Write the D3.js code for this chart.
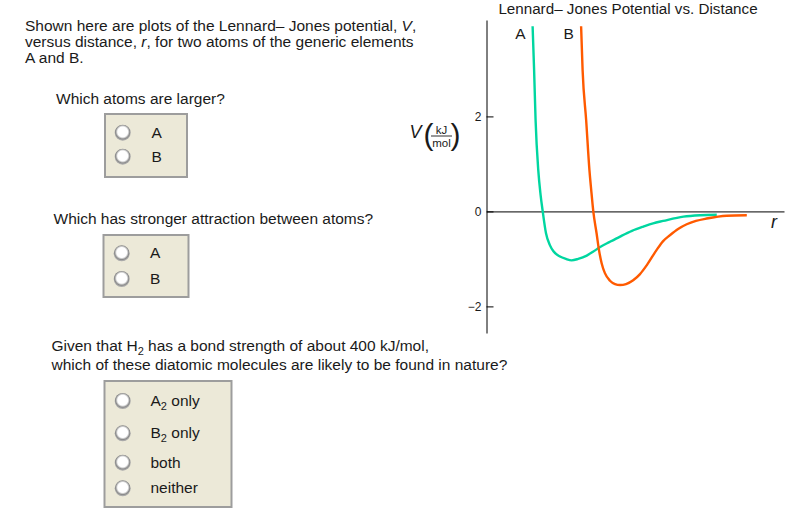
<!DOCTYPE html>
<html><head><meta charset="utf-8">
<script src="https://cdn.jsdelivr.net/npm/d3@7"></script>
<style>
body{margin:0;background:#fff}
svg{display:block}
text{font-family:"Liberation Sans",Arial,Helvetica,sans-serif;fill:#1a1a1a}
</style>
</head><body>
<svg id="c" width="807" height="512"></svg>
<script>
// ---- data ----
const seriesNames = ["A", "B"];
const seriesColors = ["#00d6a0", "#ff5a00"];
const rA = [1.55,1.60,1.65,1.74,1.82,1.89,2.00,2.13,2.25,2.47,2.67,2.86,3.08,3.37,3.58,3.82,4.15,4.49,4.89,5.27,5.60,5.94,6.62,7.18,7.74];
const vA = [3.90,2.98,1.92,0.87,0.34,0.00,-0.46,-0.71,-0.84,-0.95,-1.00,-1.03,-1.00,-0.93,-0.85,-0.75,-0.64,-0.53,-0.41,-0.32,-0.25,-0.20,-0.11,-0.08,-0.07];
const rB = [3.18,3.23,3.35,3.46,3.52,3.59,3.70,3.78,3.87,3.98,4.15,4.32,4.49,4.69,4.93,5.16,5.39,5.72,5.93,6.17,6.44,6.73,7.04,7.40,8.07,8.75];
const vB = [3.90,2.98,1.92,0.87,0.45,0.00,-0.46,-0.81,-1.09,-1.30,-1.46,-1.53,-1.55,-1.53,-1.45,-1.32,-1.13,-0.81,-0.63,-0.50,-0.37,-0.27,-0.20,-0.15,-0.09,-0.08];
const yTicks = [-2, 0, 2];
const rDomain = [0, 10];
const vDomain = [-2.56, 4.03];
const chartTitle = "Lennard\u2013 Jones Potential vs. Distance";

const q1Options = ["A", "B"];
const q2Options = ["A", "B"];
const q3Options = [["A","2"," only"], ["B","2"," only"], ["both","",""], ["neither","",""]];

// ---- drawing ----
const svg = d3.select("#c");
const FS = 15.5;

const x = d3.scaleLinear().domain(rDomain).range([486.5, 784]);
const y = d3.scaleLinear().domain(vDomain).range([333, 20]);

// intro paragraph
function richLine(xp, yp, parts) {
  const t = svg.append("text").attr("x", xp).attr("y", yp).attr("font-size", FS);
  parts.forEach(p => {
    const s = t.append("tspan").text(p[0]);
    if (p[1] === "i") s.attr("font-style", "italic");
  });
  return t;
}
richLine(25, 31, [["Shown here are plots of the Lennard\u2013 Jones potential, "], ["V", "i"], [","]]);
richLine(25, 47, [["versus distance, "], ["r", "i"], [", for two atoms of the generic elements"]]);
richLine(25, 63, [["A and B."]]);

svg.append("text").attr("x", 56).attr("y", 104).attr("font-size", FS).text("Which atoms are larger?");
svg.append("text").attr("x", 53.5).attr("y", 224).attr("font-size", FS).text("Which has stronger attraction between atoms?");
const g1 = svg.append("text").attr("x", 51.5).attr("y", 350.5).attr("font-size", FS);
g1.append("tspan").text("Given that H");
g1.append("tspan").attr("font-size", 11).attr("dy", 4).text("2");
g1.append("tspan").attr("dy", -4).text(" has a bond strength of about 400 kJ/mol,");
svg.append("text").attr("x", 51.5).attr("y", 370).attr("font-size", FS).text("which of these diatomic molecules are likely to be found in nature?");

// answer boxes
function box(x0, y0, x1, y1) {
  svg.append("rect").attr("x", x0).attr("y", y0).attr("width", x1 - x0).attr("height", y1 - y0)
    .attr("fill", "#ece9d8").attr("stroke", "#9d9d9d").attr("stroke-width", 2);
}
const defs = svg.append("defs");
const rg = defs.append("radialGradient").attr("id", "rg").attr("cx", "50%").attr("cy", "45%").attr("r", "50%");
rg.append("stop").attr("offset", "0.62").attr("stop-color", "#ffffff");
rg.append("stop").attr("offset", "0.72").attr("stop-color", "#d8d8d8");
rg.append("stop").attr("offset", "0.88").attr("stop-color", "#8a8a8a");
rg.append("stop").attr("offset", "1").attr("stop-color", "#a8a8a8");
function radio(cx, cy) {
  svg.append("circle").attr("cx", cx).attr("cy", cy).attr("r", 8).attr("fill", "url(#rg)");
}
function optLabel(xp, yp, parts) {
  const t = svg.append("text").attr("x", xp).attr("y", yp).attr("font-size", FS);
  t.append("tspan").text(parts[0]);
  if (parts[1]) {
    t.append("tspan").attr("font-size", 11).attr("dy", 4).text(parts[1]);
    t.append("tspan").attr("dy", -4).text(parts[2]);
  }
}

box(105, 114, 187, 177);
const q1y = [132.7, 156.7];
q1Options.forEach((o, i) => { radio(122.7, q1y[i]); optLabel(151.5, q1y[i] + 5, [o]); });

box(103.5, 235, 188.5, 297);
const q2y = [253.3, 279];
q2Options.forEach((o, i) => { radio(121.7, q2y[i]); optLabel(150, q2y[i] + 5, [o]); });

box(104.5, 381, 231.5, 507);
const q3y = [401, 433.3, 462.7, 488.3];
q3Options.forEach((o, i) => { radio(122.7, q3y[i]); optLabel(150.5, q3y[i] + 5, o); });

// chart
svg.append("text").attr("x", 628).attr("y", 13.5).attr("text-anchor", "middle").attr("font-size", 15.2).text(chartTitle);

const yAxis = d3.axisLeft(y).tickValues(yTicks).tickFormat(d3.format("d"))
  .tickSizeInner(-7).tickSizeOuter(0).tickPadding(5);
const ya = svg.append("g").attr("transform", `translate(${x(rDomain[0])},0)`).call(yAxis);
ya.selectAll("text").attr("font-size", 12).attr("font-family", '"Liberation Sans",Arial,sans-serif').attr("fill", "#1a1a1a");
ya.selectAll("line,path").attr("stroke", "#000");

const xAxis = d3.axisBottom(x).tickValues([]).tickSizeOuter(0);
const xa = svg.append("g").attr("transform", `translate(0,${y(0)})`).call(xAxis);
xa.select("path").attr("stroke", "#000");

svg.append("text").attr("x", 771).attr("y", 228).attr("font-size", 18).attr("font-style", "italic").text("r");

// V (kJ/mol) label
svg.append("text").attr("x", 409.5).attr("y", 137.5).attr("font-size", 18).attr("font-style", "italic").text("V");
svg.append("text").attr("x", 423.5).attr("y", 145).attr("font-size", 30).attr("fill", "#444").text("(");
svg.append("text").attr("x", 450.5).attr("y", 145).attr("font-size", 30).attr("fill", "#444").text(")");
svg.append("text").attr("x", 441.5).attr("y", 133.5).attr("font-size", 11.5).attr("text-anchor", "middle").text("kJ");
svg.append("line").attr("x1", 431).attr("x2", 452).attr("y1", 136).attr("y2", 136).attr("stroke", "#1a1a1a").attr("stroke-width", 0.9);
svg.append("text").attr("x", 441.5).attr("y", 146.5).attr("font-size", 11.5).attr("text-anchor", "middle").text("mol");

// curves
const line = d3.line().x(d => x(d[0])).y(d => y(d[1])).curve(d3.curveMonotoneX);
const series = [d3.zip(rA, vA), d3.zip(rB, vB)];
series.forEach((pts, i) => {
  svg.append("path").datum(pts).attr("d", line).attr("fill", "none")
    .attr("stroke", seriesColors[i]).attr("stroke-width", 2.4).attr("stroke-linejoin", "round");
});
// series labels
const labelPos = [[520.5, 39], [568.7, 39]];
seriesNames.forEach((n, i) => {
  svg.append("text").attr("x", labelPos[i][0]).attr("y", labelPos[i][1]).attr("text-anchor", "middle")
    .attr("font-size", FS).text(n);
});
</script>
</body></html>
